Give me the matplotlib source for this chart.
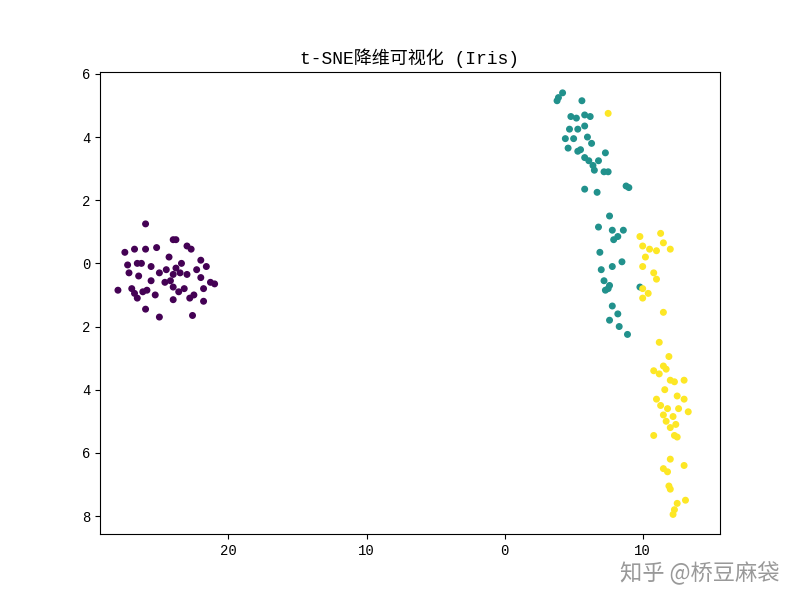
import matplotlib
matplotlib.use("Agg")
import matplotlib.pyplot as plt
from matplotlib.ticker import FuncFormatter
import numpy as np

plt.rcParams['font.family'] = ['Liberation Mono', 'Noto Sans CJK SC']

setosa = [(-26.0, 1.25), (-27.5, 0.35), (-27.2, -0.3), (-26.8, 0.45), (-26.6, 0.0), (-26.3, 0.0),
          (-26.0, 0.45), (-25.6, -0.1), (-27.0, -0.8), (-26.8, -0.95), (-26.6, -1.1), (-26.2, -0.9),
          (-25.9, -0.85), (-26.0, -1.45), (-25.0, -1.7), (-28.0, -0.85), (-25.2, 0.5), (-24.5, -0.2),
          (-24.0, 0.75), (-23.8, 0.75), (-23.0, 0.55), (-22.7, 0.45), (-22.0, 0.1), (-21.6, -0.1),
          (-21.3, -0.6), (-21.0, -0.65), (-21.8, -0.8), (-21.8, -1.2), (-22.5, -1.0), (-22.6, -1.65),
          (-23.0, -0.35), (-23.5, -0.3), (-23.8, -0.15), (-24.0, -0.35), (-24.2, -0.55), (-24.6, -0.6),
          (-25.0, -0.3), (-24.0, -0.75), (-23.6, -0.9), (-24.0, -1.15), (-22.8, -1.1), (-23.2, -0.8),
          (-22.3, -0.2), (-24.3, 0.2), (-25.3, -1.0), (-26.5, -0.4), (-27.3, -0.05), (-25.6, -0.55),
          (-23.4, 0.0), (-22.0, -0.45)]
versicolor = [(4.2, 5.4), (3.9, 5.25), (3.8, 5.15), (5.6, 5.15), (4.8, 4.65), (5.2, 4.6), (5.8, 4.7),
              (6.2, 4.65), (4.7, 4.25), (5.3, 4.25), (5.8, 4.35), (4.4, 3.95), (5.0, 3.95), (6.0, 4.0),
              (5.5, 3.6), (6.3, 3.8), (4.6, 3.65), (5.3, 3.55), (5.8, 3.35), (6.1, 3.25), (6.4, 3.1),
              (7.3, 3.5), (6.8, 3.25), (7.2, 2.9), (7.5, 2.9), (6.5, 2.95), (8.8, 2.45), (9.0, 2.4),
              (5.8, 2.35), (6.7, 2.25), (7.6, 1.5), (6.8, 1.15), (7.8, 1.05), (8.6, 1.05), (8.2, 0.85),
              (7.9, 0.75), (6.9, 0.35), (7.8, -0.1), (8.5, 0.05), (7.2, -0.55), (7.6, -0.7), (7.3, -0.85),
              (7.5, -0.8), (7.8, -1.35), (7.6, -1.8), (8.3, -2.0), (8.9, -2.25), (8.2, -1.6), (9.8, -0.75),
              (7.0, -0.2)]
virginica = [(7.5, 4.75), (9.8, 0.85), (11.3, 0.95), (11.5, 0.65), (11.0, 0.4), (10.5, 0.45), (12.0, 0.45),
             (10.0, 0.55), (10.2, 0.2), (10.0, -0.1), (10.8, -0.3), (11.0, -0.5), (10.0, -0.8), (10.4, -0.95),
             (10.0, -1.1), (11.5, -1.55), (11.2, -2.5), (11.9, -2.95), (11.5, -3.25), (11.7, -3.35),
             (10.8, -3.4), (11.2, -3.5), (12.0, -3.7), (12.3, -3.75), (13.0, -3.7), (11.6, -4.0), (11.0, -4.3),
             (12.5, -4.2), (13.0, -4.3), (11.3, -4.5), (11.8, -4.6), (12.6, -4.6), (13.3, -4.7), (11.5, -4.8),
             (12.2, -4.85), (11.7, -5.0), (12.4, -5.1), (12.0, -5.2), (10.8, -5.45), (12.3, -5.45),
             (12.5, -5.5), (12.0, -6.2), (13.0, -6.4), (11.5, -6.5), (11.8, -6.6), (11.9, -7.05),
             (12.0, -7.15), (12.5, -7.6), (12.3, -7.8), (12.2, -7.95), (13.1, -7.5)]

pts = np.array(setosa + versicolor + virginica)
labels = [0] * len(setosa) + [1] * len(versicolor) + [2] * len(virginica)

fig, ax = plt.subplots(figsize=(8, 6), dpi=100)
ax.scatter(pts[:, 0], pts[:, 1], c=labels, cmap="viridis", s=16)
ax.set_title("t-SNE降维可视化 (Iris)", fontsize=13)
ax.set_xticks([-20, -10, 0, 10])
ax.set_yticks([6, 4, 2, 0, -2, -4, -6, -8])
# the original font had no minus sign glyph
fmt = FuncFormatter(lambda v, p: "%d" % abs(v))
ax.xaxis.set_major_formatter(fmt)
ax.yaxis.set_major_formatter(fmt)
ax.set_xlim(-29.3, 15.6)
ax.set_ylim(-8.57, 6.06)
fig.text(0.975, 0.045, "知乎 @桥豆麻袋", ha="right", va="center", fontsize=16,
         color="#999999", family=["Noto Sans CJK SC"])
fig.savefig("out.png")
